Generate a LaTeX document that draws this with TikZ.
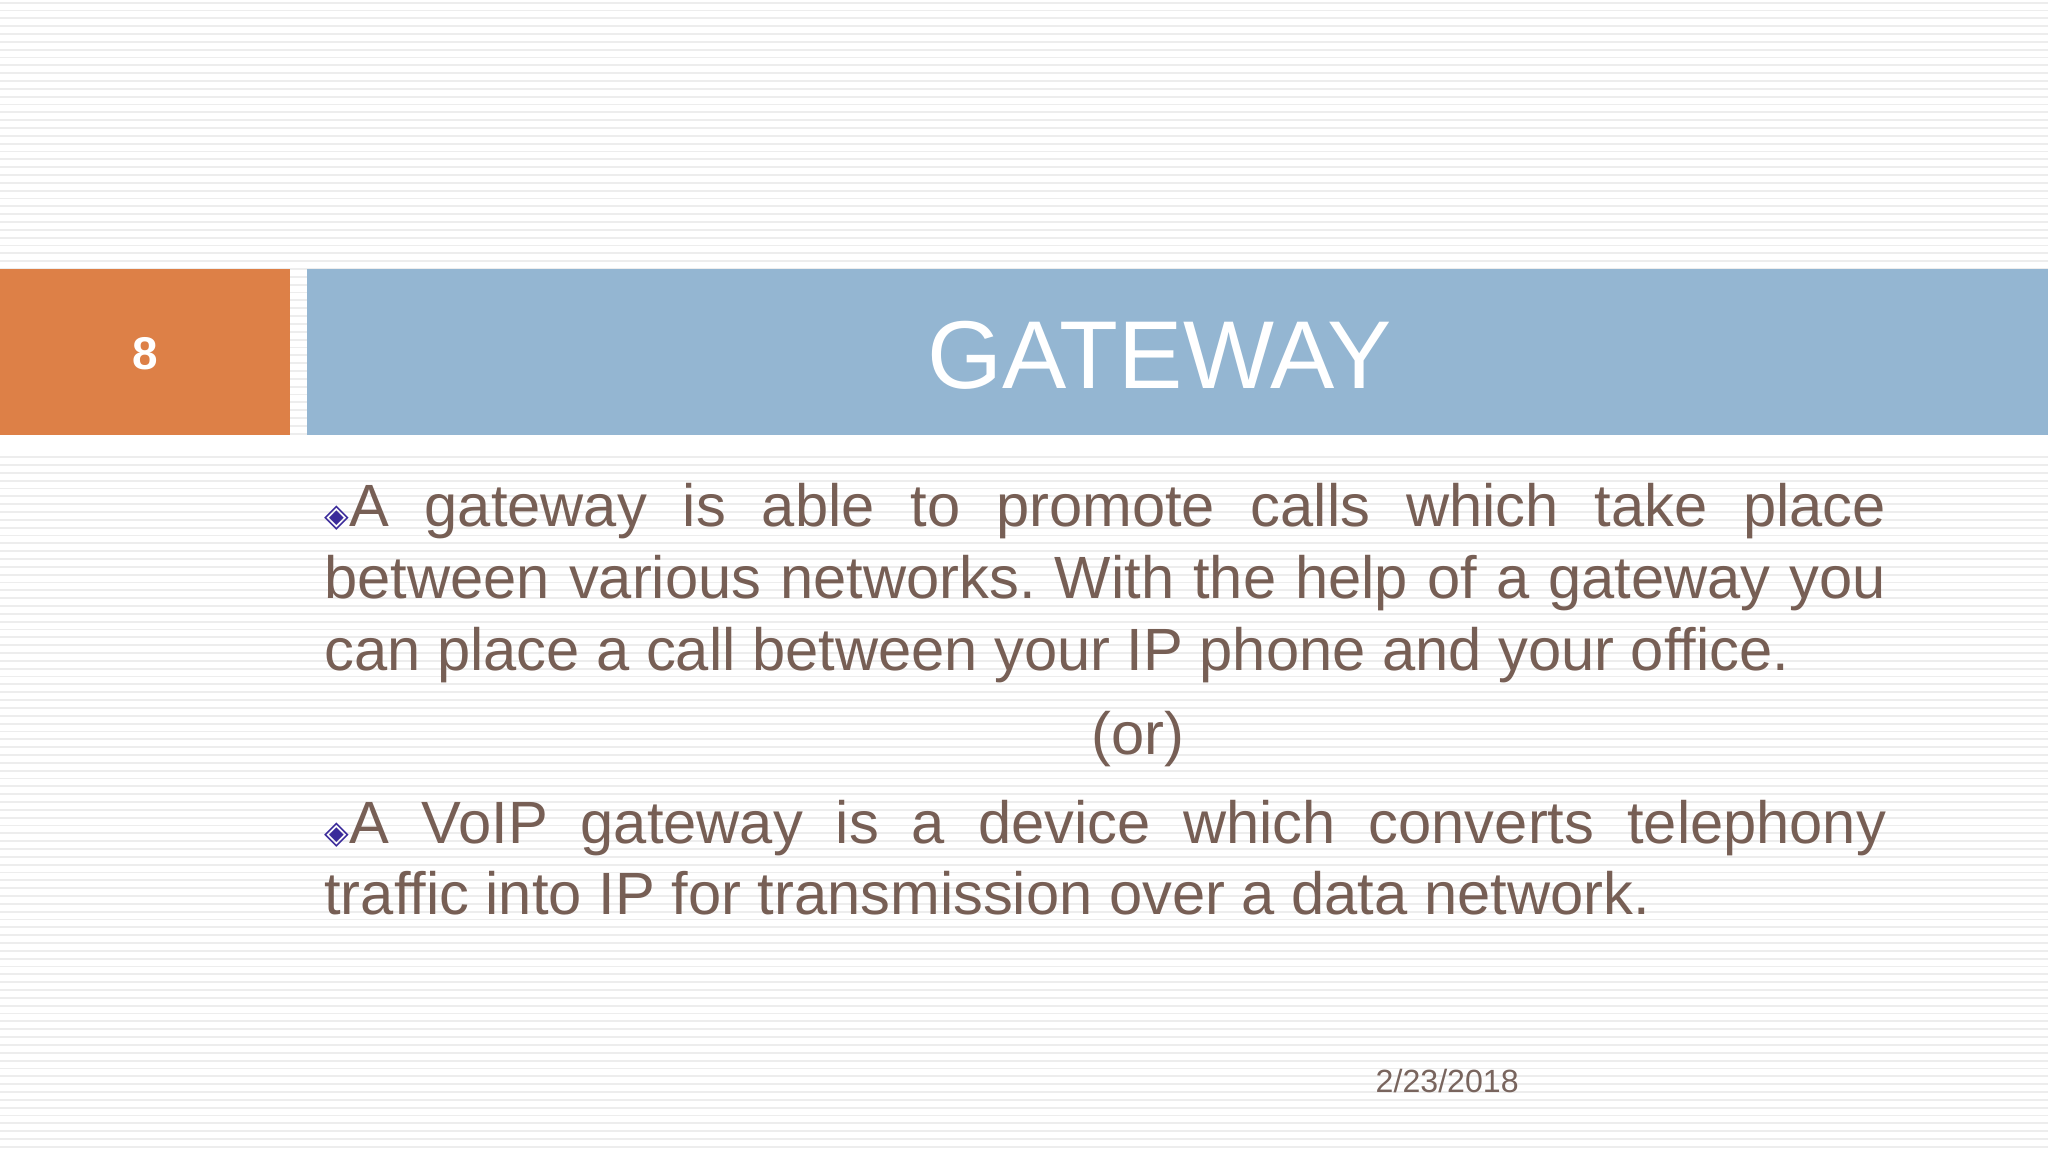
\documentclass[tikz,border=0pt]{standalone}
\usepackage{fontspec}
\setmainfont{Liberation Sans}
\newfontfamily\djv{DejaVu Sans}
\definecolor{txt}{HTML}{775F55}
\definecolor{org}{HTML}{DD8047}
\definecolor{blu}{HTML}{94B6D2}
\definecolor{bul}{HTML}{3A2A9A}
\newcommand{\bul}{{\djv\fontsize{14pt}{14pt}\selectfont\color{bul}◈}}
\tikzset{body/.style={anchor=north west,inner sep=0pt,text width=23.92cm,align=justify,text=txt,font=\fontsize{26pt}{31.3pt}\selectfont\frenchspacing}}
\begin{document}
\begin{tikzpicture}[x=0.02cm,y=-0.02cm]
\useasboundingbox (0,0) rectangle (1568,882);
\fill[white] (0,0) rectangle (1568,882);
\foreach \i in {0,...,146} {\draw[black!7,line width=0.8pt] (0,\i*6+2) -- (1568,\i*6+2);}
\fill[white] (0,333) rectangle (1568,345);
\fill[org] (0,206) rectangle (222,333);
\fill[blu] (235,206) rectangle (1568,333);
\node[text=white,font=\bfseries\fontsize{20pt}{20pt}\selectfont] (num) at (111,271) {8};
\node[text=white,font=\fontsize{42pt}{42pt}\selectfont] (title) at (888,272) {GATEWAY};
\node[body] (p1) at (248,370) {\bul A gateway is able to promote calls which take place\linebreak between various networks. With the help of a gateway you\linebreak can place a call between your IP phone and your office.};
\node[text=txt,font=\fontsize{26pt}{26pt}\selectfont] (or) at (871,566) {(or)};
\node[body] (p2) at (248,612) {\bul A VoIP gateway is a device which converts telephony\linebreak traffic into IP for transmission over a data network.};
\node[text=txt!80!gray,font=\fontsize{14pt}{14pt}\selectfont] (date) at (1108,828) {2/23/2018};
\end{tikzpicture}
\end{document}
